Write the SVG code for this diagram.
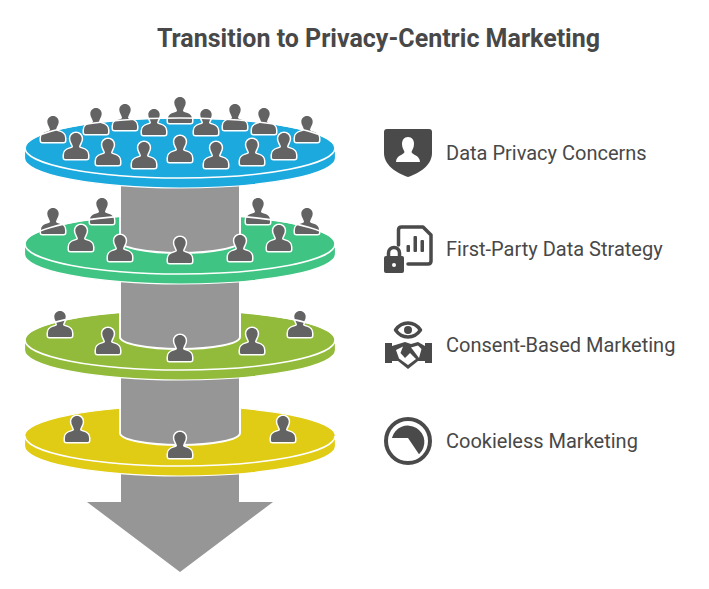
<svg xmlns="http://www.w3.org/2000/svg" xmlns:xlink="http://www.w3.org/1999/xlink" width="709" height="589" viewBox="0 0 709 589">
<style>
.t{font-family:Roboto,"Liberation Sans",sans-serif;fill:#484848}
.title{font-size:25px;font-weight:700}
.label{font-size:20px}
.edge{fill:none;stroke:#fff;stroke-width:1.6}
.rim{stroke:#fff;stroke-width:1.2}
.col{fill:#969696;stroke:#fff;stroke-width:2}
.p{fill:#636363;stroke:#fff;stroke-width:3;paint-order:stroke;stroke-linejoin:round}
.ic{fill:#4a4a4a}
.il{fill:none;stroke:#4a4a4a;stroke-width:3.500;stroke-linejoin:round;stroke-linecap:round}
.w{fill:#fff}
</style>
<defs>
<path id="person" class="p" d="M0,-26C3.300,-26 5.700,-23.500 5.700,-20.200C5.700,-17 3.500,-15 3,-12.500C3,-9.500 12,-11.500 12,-4V-1.500Q12,0 10.500,0H-10.500Q-12,0 -12,-1.500V-4C-12,-11.500 -3,-9.500 -3,-12.500C-3.500,-15 -5.700,-17 -5.700,-20.200C-5.700,-23.500 -3.300,-26 0,-26Z"/>
<path id="disc" d="M24.500,0A155.500,30 0 0 1 335.500,0V10A155.500,30 0 0 1 24.500,10Z"/>
</defs>
<text class="t title" x="378.500" y="47" text-anchor="middle">Transition to Privacy-Centric Marketing</text>
<g id="connectors">
<path id="arrow" fill="#969696" d="M121,460H239V502H273L180,572L87,502H121Z"/>
</g>
<g id="disc-yellow">
<use xlink:href="#disc" y="436" fill="#E0CB15" class="rim"/>
<path class="edge" d="M25,436A155,30 0 0 0 335,436"/>
<path class="col" d="M120,370H240V433A60,12 0 0 1 120,433Z"/>
<use xlink:href="#person" x="77" y="442"/><use xlink:href="#person" x="180" y="458"/><use xlink:href="#person" x="283" y="442"/>
</g>
<g id="disc-olive">
<use xlink:href="#disc" y="340" fill="#92BB3B" class="rim"/>
<path class="edge" d="M25,340A155,30 0 0 0 335,340"/>
<path class="col" d="M120,274H240V337A60,12 0 0 1 120,337Z"/>
<use xlink:href="#person" x="60" y="337"/><use xlink:href="#person" x="108" y="354"/><use xlink:href="#person" x="180" y="361"/><use xlink:href="#person" x="252" y="354"/><use xlink:href="#person" x="300" y="337"/>
<path class="edge" d="M25,340A155,30 0 0 1 119,312.400M241,312.400A155,30 0 0 1 335,340"/>
</g>
<g id="disc-green">
<use xlink:href="#disc" y="244" fill="#3FC483" class="rim"/>
<path class="edge" d="M25,244A155,30 0 0 0 335,244"/>
<path class="col" d="M120,178H240V241A60,12 0 0 1 120,241Z"/>
<use xlink:href="#person" x="53" y="234"/><use xlink:href="#person" x="102" y="224"/><use xlink:href="#person" x="81" y="251"/><use xlink:href="#person" x="120" y="261"/><use xlink:href="#person" x="180" y="263"/><use xlink:href="#person" x="240" y="261"/><use xlink:href="#person" x="279" y="251"/><use xlink:href="#person" x="258" y="224"/><use xlink:href="#person" x="307" y="234"/>
<path class="edge" d="M25,244A155,30 0 0 1 119,216.400M241,216.400A155,30 0 0 1 335,244"/>
</g>
<g id="disc-blue">
<use xlink:href="#disc" y="148" fill="#1CA9DE" class="rim"/>
<path class="edge" d="M25,148A155,30 0 0 0 335,148"/>
<use xlink:href="#person" x="53" y="142"/><use xlink:href="#person" x="96" y="134"/><use xlink:href="#person" x="125" y="130"/><use xlink:href="#person" x="154" y="135"/><use xlink:href="#person" x="180" y="123"/><use xlink:href="#person" x="206" y="135"/><use xlink:href="#person" x="235" y="130"/><use xlink:href="#person" x="264" y="134"/><use xlink:href="#person" x="307" y="142"/>
<path class="edge" d="M25,148A155,30 0 0 1 335,148"/>
<use xlink:href="#person" x="76" y="159"/><use xlink:href="#person" x="108" y="165"/><use xlink:href="#person" x="144" y="168"/><use xlink:href="#person" x="180" y="162"/><use xlink:href="#person" x="216" y="168"/><use xlink:href="#person" x="252" y="165"/><use xlink:href="#person" x="284" y="159"/>
</g>
<g id="item-privacy">
<path class="ic" d="M387,129H429Q432,129 432,132V153C432,165 420,173 408,177C396,173 384,165 384,153V132Q384,129 387,129Z"/>
<path class="w" d="M408,137C412,137 414,140 414,144C414,148 412,150 411.500,152C412,155 420,155 420,162H396C396,155 404,155 404.500,152C404,150 402,148 402,144C402,140 404,137 408,137Z"/>
<text class="t label" x="446" y="160">Data Privacy Concerns</text>
</g>
<g id="item-first-party">
<path class="il" d="M398.500,245V230Q398.500,227 401.500,227H423L431,235V261Q431,264 428,264H408"/>
<rect class="ic" x="406.500" y="245" width="3.500" height="7" rx="1"/>
<rect class="ic" x="413.500" y="236" width="3.500" height="16" rx="1"/>
<rect class="ic" x="420.500" y="240" width="3.500" height="12" rx="1"/>
<path class="il" d="M388.500,256V253A5.500,5.500 0 0 1 399.500,253V256"/>
<rect class="ic" x="384" y="256" width="20" height="17" rx="2"/>
<circle class="w" cx="394" cy="265" r="2"/>
<text class="t label" x="446" y="256">First-Party Data Strategy</text>
</g>
<g id="item-consent">
<path class="il" d="M395.500,330C399,325 403,323 408,323C413,323 417,325 420.500,330C417,335 413,337 408,337C403,337 399,335 395.500,330Z"/>
<circle class="ic" cx="408" cy="330" r="4"/>
<path class="ic" d="M385,343H392V363H385ZM425,343H432V363H425Z"/>
<path class="ic" d="M392,346L405,342L411,344L418,342L425,346V361H418L408,369L398,361H392Z"/>
<path class="w" d="M396,350L403,346.500L400.500,353L405,358L410,353L416,359L408,365L399,358.500ZM411,347.500L418,345.500L421.500,349L419,358L413,350Z"/>
<text class="t label" x="446" y="352">Consent-Based Marketing</text>
</g>
<g id="item-cookieless">
<circle cx="408" cy="441" r="22" fill="none" stroke="#4a4a4a" stroke-width="4"/>
<path class="ic" d="M391.900,438A16.500,16.500 0 1 1 419,454.300L408,438Z"/>
<text class="t label" x="446" y="448">Cookieless Marketing</text>
</g>
</svg>
